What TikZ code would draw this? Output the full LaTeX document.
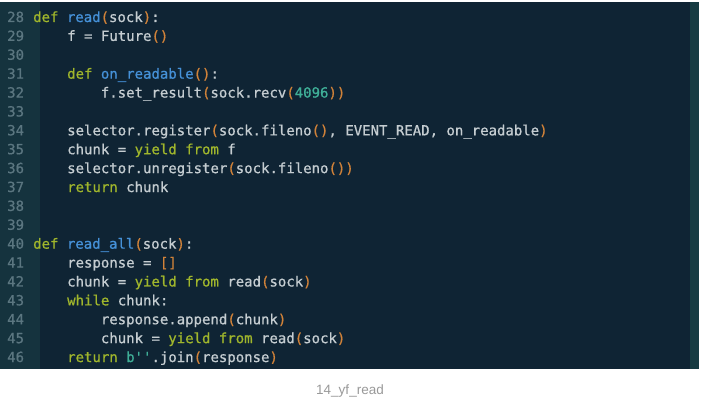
\documentclass[tikz,border=0pt]{standalone}
\usepackage{fontspec}
\newfontfamily\codefont{DejaVu Sans Mono}[FakeBold=0.8]
\newfontfamily\capfont{Liberation Sans}
\definecolor{bgc}{HTML}{0F2434}
\definecolor{gutc}{HTML}{15333E}
\definecolor{stripc}{HTML}{163B42}
\definecolor{txtc}{HTML}{C5CDD1}
\definecolor{lnc}{HTML}{5B7680}
\definecolor{kwc}{HTML}{A0B62C}
\definecolor{fnc}{HTML}{4591D8}
\definecolor{parc}{HTML}{D08239}
\definecolor{numc}{HTML}{3FAE97}
\definecolor{capc}{HTML}{999999}
\newcommand\ckw[1]{\textcolor{kwc}{#1}}
\newcommand\cfn[1]{\textcolor{fnc}{#1}}
\newcommand\cpar[1]{\textcolor{parc}{#1}}
\newcommand\cnum[1]{\textcolor{numc}{#1}}
\tikzset{
  code/.style={anchor=base west, inner sep=0pt, text=txtc, font=\codefont\fontsize{14}{14}\selectfont},
  lnum/.style={anchor=base west, inner sep=0pt, text=lnc, font=\codefont\fontsize{14}{14}\selectfont},
  caption/.style={anchor=center, inner sep=0pt, text=capc, font=\capfont\fontsize{13.5}{14}\selectfont}
}
\begin{document}
\begin{tikzpicture}[x=1pt,y=-1pt]
\useasboundingbox (0,0) rectangle (703,404);
\fill[white] (0,0) rectangle (703,404);
\fill[bgc] (0,2) rectangle (699,369);
\fill[gutc] (0,2) rectangle (40,369);
\fill[stripc] (690,2) rectangle (699,369);
% line numbers
\foreach \n in {28,...,46} {
  \node[lnum] (n\n) at (7,{22+(\n-28)*18.89}) {\n};
}
\def\ya#1{{22+(#1-28)*18.89}}
\node[code] (l28) at (33,\ya{28}) {\ckw{def} \cfn{read}\cpar{(}sock\cpar{)}:};
\node[code] (l29) at (67,\ya{29}) {f = Future\cpar{()}};
\node[code] (l31) at (67,\ya{31}) {\ckw{def} \cfn{on\_readable}\cpar{()}:};
\node[code] (l32) at (100.7,\ya{32}) {f.set\_result\cpar{(}sock.recv\cpar{(}\cnum{4096}\cpar{))}};
\node[code] (l34) at (67,\ya{34}) {selector.register\cpar{(}sock.fileno\cpar{()}, EVENT\_READ, on\_readable\cpar{)}};
\node[code] (l35) at (67,\ya{35}) {chunk = \ckw{yield from} f};
\node[code] (l36) at (67,\ya{36}) {selector.unregister\cpar{(}sock.fileno\cpar{())}};
\node[code] (l37) at (67,\ya{37}) {\ckw{return} chunk};
\node[code] (l40) at (33,\ya{40}) {\ckw{def} \cfn{read\_all}\cpar{(}sock\cpar{)}:};
\node[code] (l41) at (67,\ya{41}) {response = \cpar{[]}};
\node[code] (l42) at (67,\ya{42}) {chunk = \ckw{yield from} read\cpar{(}sock\cpar{)}};
\node[code] (l43) at (67,\ya{43}) {\ckw{while} chunk:};
\node[code] (l44) at (100.7,\ya{44}) {response.append\cpar{(}chunk\cpar{)}};
\node[code] (l45) at (100.7,\ya{45}) {chunk = \ckw{yield from} read\cpar{(}sock\cpar{)}};
\node[code] (l46) at (67,\ya{46}) {\ckw{return} \cnum{b\char"0027\char"0027}.join\cpar{(}response\cpar{)}};
\node[caption] (cap) at (350,391) {14\_yf\_read};
\end{tikzpicture}
\end{document}
